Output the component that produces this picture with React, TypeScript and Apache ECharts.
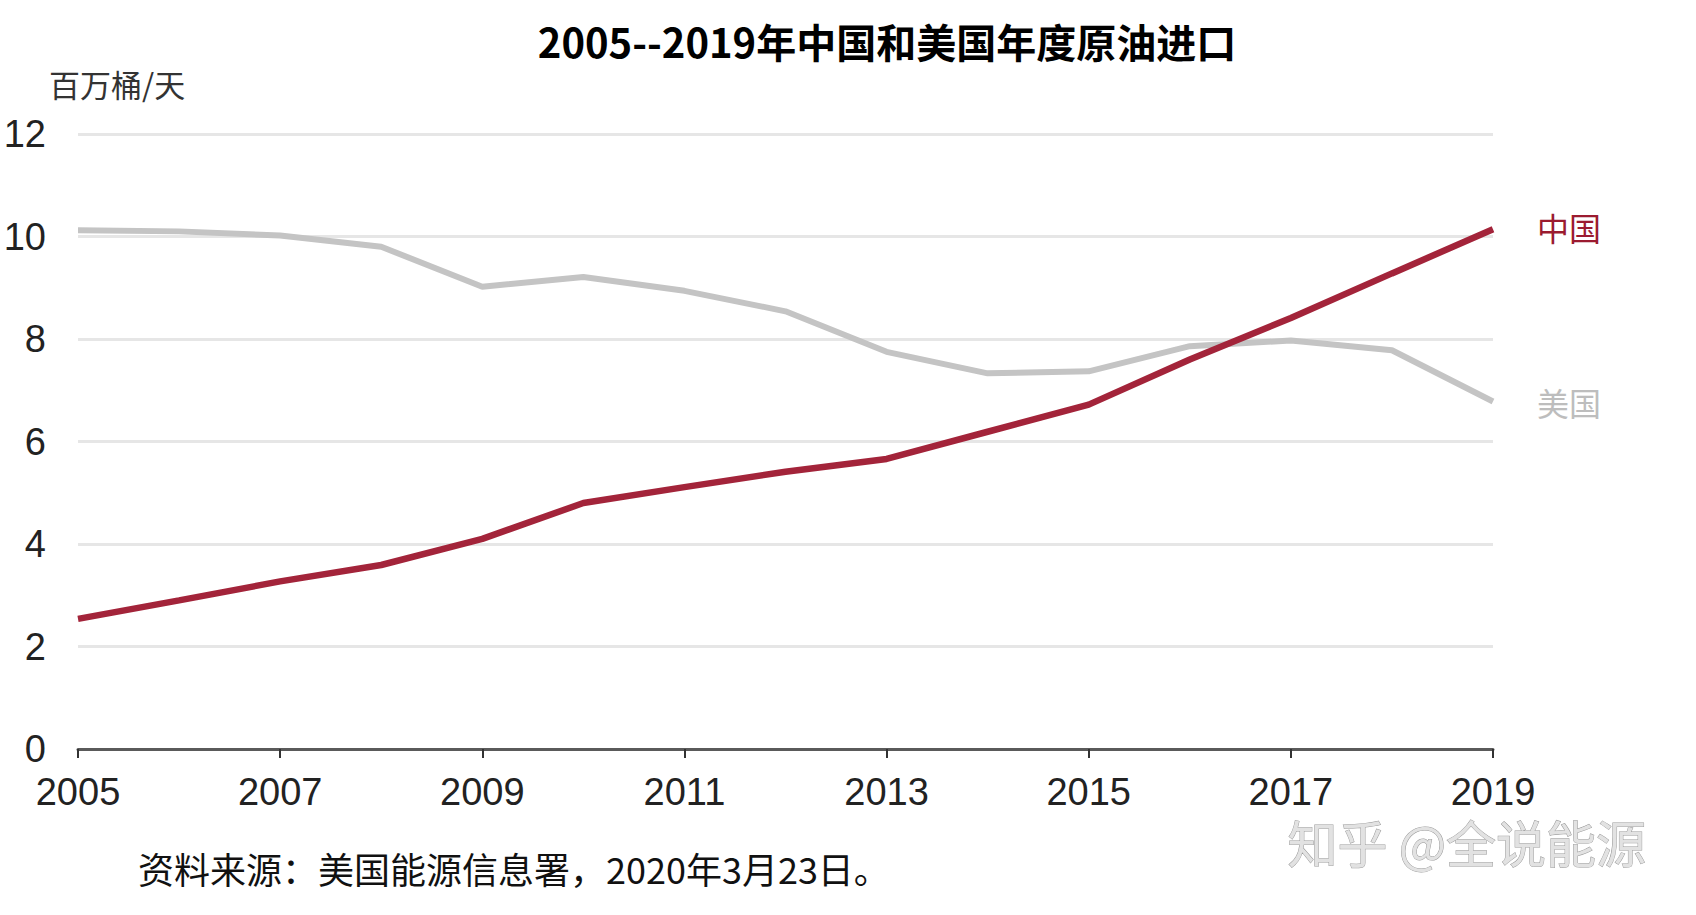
import React, { useEffect, useRef } from "react";
import * as echarts from "echarts";

const years = ["2005","2006","2007","2008","2009","2010","2011","2012","2013","2014","2015","2016","2017","2018","2019"];
const chinaImports = [2.54, 2.9, 3.27, 3.59, 4.1, 4.8, 5.11, 5.41, 5.66, 6.19, 6.72, 7.6, 8.41, 9.28, 10.14];
const usImports = [10.12, 10.1, 10.02, 9.8, 9.02, 9.21, 8.94, 8.54, 7.75, 7.33, 7.37, 7.86, 7.97, 7.78, 6.78];
const yTicks = { min: 0, max: 12, interval: 2 };

const titleText = "2005--2019年中国和美国年度原油进口";
const unitText = "百万桶/天";
const sourceText = "资料来源：美国能源信息署，2020年3月23日。";
const watermarkText = "知乎 @全说能源";
const chinaName = "中国";
const usName = "美国";

const numFont = "'Liberation Sans Narrow', 'Arial Narrow', 'Liberation Sans', sans-serif";
const cjkFont = "'Noto Sans CJK SC', sans-serif";

export default function App() {
  const ref = useRef<HTMLDivElement>(null);
  useEffect(() => {
    document.body.style.margin = "0";
    if (!ref.current) return;
    const chart = echarts.init(ref.current, undefined, { renderer: "svg" });
    chart.setOption({
      animation: false,
      backgroundColor: "#ffffff",
      title: {
        text: titleText,
        left: 882,
        top: 16,
        textAlign: "center",
        textStyle: { fontFamily: cjkFont, fontSize: 40, fontWeight: "bold", color: "#000" },
      },
      grid: { left: 78, right: 1696 - 1493, top: 134, bottom: 915 - 749, containLabel: false },
      xAxis: {
        type: "category",
        data: years,
        boundaryGap: false,
        axisLine: { lineStyle: { color: "#5a5a5a", width: 3 } },
        axisTick: { show: true, interval: 1, length: 9, lineStyle: { color: "#333", width: 2 } },
        axisLabel: { interval: 1, margin: 24, fontFamily: numFont, fontSize: 38, color: "#222" },
        splitLine: { show: false },
      },
      yAxis: {
        type: "value",
        min: yTicks.min,
        max: yTicks.max,
        interval: yTicks.interval,
        axisLine: { show: false },
        axisTick: { show: false },
        axisLabel: { margin: 32, fontFamily: numFont, fontSize: 38, color: "#222" },
        splitLine: { lineStyle: { color: "#e6e6e6", width: 3 } },
      },
      series: [
        {
          name: usName,
          type: "line",
          data: usImports,
          symbol: "none",
          lineStyle: { color: "#c4c4c4", width: 6 },
          endLabel: {
            show: true,
            formatter: usName,
            offset: [36, 0],
            fontFamily: cjkFont,
            fontSize: 32,
            color: "#bdbdbd",
          },
        },
        {
          name: chinaName,
          type: "line",
          data: chinaImports,
          symbol: "none",
          lineStyle: { color: "#a3243a", width: 6.5 },
          endLabel: {
            show: true,
            formatter: chinaName,
            offset: [36, -2],
            fontFamily: cjkFont,
            fontSize: 32,
            color: "#9b1b30",
          },
        },
      ],
      graphic: [
        {
          type: "text",
          left: 49,
          top: 68,
          style: { text: unitText, fontFamily: cjkFont, fontSize: 31, fill: "#333" },
        },
        {
          type: "text",
          left: 138,
          top: 850,
          style: { text: sourceText, fontFamily: cjkFont, fontSize: 36, fill: "#111" },
        },
        {
          type: "text",
          left: 1287,
          top: 815,
          style: {
            text: watermarkText,
            fontFamily: cjkFont,
            fontSize: 50,
            fill: "#e2e2e2",
            stroke: "#9a9a9a",
            lineWidth: 1,
          },
        },
      ],
    });
    return () => chart.dispose();
  }, []);
  return <div ref={ref} style={{ width: 1696, height: 915 }} />;
}
